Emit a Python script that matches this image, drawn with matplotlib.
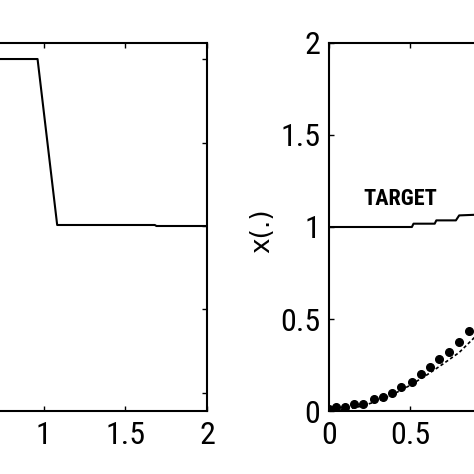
import matplotlib
matplotlib.use("Agg")
import matplotlib.pyplot as plt

# left panel: control signal (only right part visible)
left_t = [0.0, 0.963, 1.083, 1.68, 1.69, 2.0]
left_u = [2.0, 2.0, 1.006, 1.006, 1.0, 1.0]
left_xticks = [0, 0.5, 1, 1.5, 2]
left_xlabels = ['0', '0.5', '1', '1.5', '2']
left_yticks = [0, 0.5, 1, 1.5, 2]
left_ylabels = ['0', '0.5', '1', '1.5', '2']

# right panel: target and state
target_t = [0.0, 0.51, 0.52, 0.65, 0.66, 0.78, 0.80, 1.0]
target_x = [1.0, 1.0, 1.018, 1.018, 1.036, 1.036, 1.063, 1.07]

state_t = [0.0, 0.046, 0.102, 0.154, 0.212, 0.279, 0.331, 0.389, 0.446,
           0.512, 0.566, 0.623, 0.679, 0.737, 0.8, 0.858, 0.914]
state_x = [0.01, 0.02, 0.02, 0.038, 0.038, 0.064, 0.074, 0.10, 0.129,
           0.159, 0.201, 0.241, 0.281, 0.322, 0.377, 0.436, 0.495]

model_t = [0.0, 0.1, 0.2, 0.3, 0.4, 0.5, 0.6, 0.7, 0.8, 0.9, 0.95]
model_x = [0.0, 0.008, 0.026, 0.054, 0.093, 0.14, 0.195, 0.255, 0.318, 0.405, 0.45]

right_xticks = [0, 0.5, 1, 1.5, 2]
right_xlabels = ['0', '0.5', '1', '1.5', '2']
right_yticks = [0, 0.5, 1, 1.5, 2]
right_ylabels = ['0', '0.5', '1', '1.5', '2']

narrow = ['Liberation Sans Narrow', 'Roboto Condensed', 'Archivo Narrow',
          'Liberation Sans', 'DejaVu Sans']

fig = plt.figure(figsize=(4.74, 4.74), dpi=100)

# axes run past the canvas on purpose: the reference is a crop
ax1 = fig.add_axes([-0.253, 0.1329, 0.690, 0.7764])
ax2 = fig.add_axes([0.6935, 0.1329, 0.688, 0.7764])

for ax in (ax1, ax2):
    for sp in ax.spines.values():
        sp.set_linewidth(1.5)
    ax.tick_params(direction='in', length=3.5, width=1.0, top=True, right=True)
    ax.tick_params(axis='x', pad=7)
    ax.tick_params(axis='y', pad=6)

ax1.plot(left_t, left_u, color='black', lw=1.5)
ax1.set_xlim(0, 2)
ax1.set_ylim(-0.108, 2.096)
ax1.set_xticks(left_xticks)
ax1.set_xticklabels(left_xlabels, family=narrow, fontsize=23)
ax1.set_yticks(left_yticks)
ax1.set_yticklabels(left_ylabels, family=narrow, fontsize=23)

ax2.plot(target_t, target_x, color='black', lw=1.5)
ax2.plot(model_t, model_x, color='black', lw=1.2, linestyle=(0, (2, 1.5)))
ax2.plot(state_t, state_x, 'o', color='black', markersize=5.5)
ax2.set_xlim(0, 2)
ax2.set_ylim(0, 2)
ax2.set_xticks(right_xticks)
ax2.set_xticklabels(right_xlabels, family=narrow, fontsize=23)
ax2.set_yticks(right_yticks)
ax2.set_yticklabels(right_ylabels, family=narrow, fontsize=23)
ax2.text(0.215, 1.15, 'TARGET', fontsize=16, fontweight='bold',
         family=narrow, ha='left', va='center')
ax2.set_ylabel('x(.)', fontsize=19, va='center')
ax2.yaxis.set_label_coords(-0.205, 0.49)

fig.savefig('out.png', dpi=100)
